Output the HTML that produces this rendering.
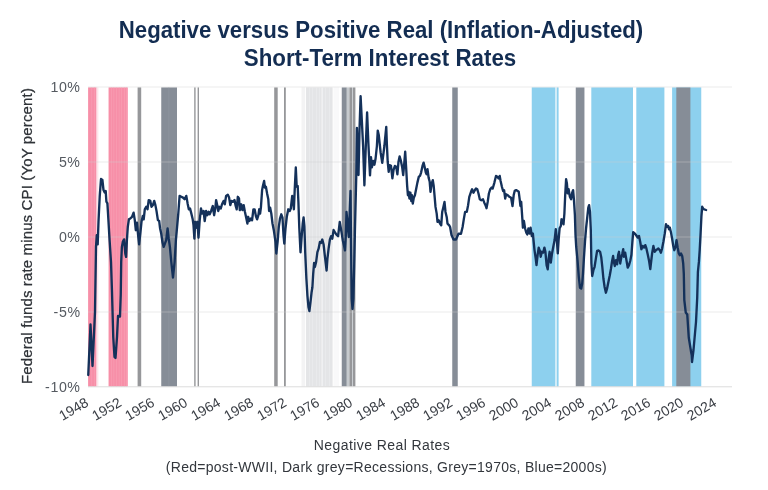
<!DOCTYPE html>
<html><head><meta charset="utf-8">
<style>
html,body{margin:0;padding:0;background:#fff;}
body{width:768px;height:490px;position:relative;overflow:hidden;font-family:"Liberation Sans",sans-serif;}
.t{position:absolute;left:0;width:768px;text-align:center;font-weight:bold;color:#132d52;font-size:23px;line-height:28px;white-space:nowrap;}
#t1{transform:scaleX(0.9656)}#t2{transform:scaleX(0.9704)}#b1{letter-spacing:0.42px}#b2{letter-spacing:0.28px}
.yl{position:absolute;left:20.6px;width:60px;text-align:right;font-size:14.2px;letter-spacing:0.6px;line-height:18px;color:#555a61;}
.xl{position:absolute;top:392.8px;width:60px;height:16px;text-align:right;font-size:14px;line-height:16px;color:#3a3e45;transform-origin:100% 50%;transform:rotate(-30deg);white-space:nowrap;}
.yt{position:absolute;left:27px;top:236px;width:0;height:0;}
.yt span{position:absolute;left:-160px;top:-9px;width:320px;text-align:center;font-size:15px;letter-spacing:0.14px;line-height:18px;color:#2f3338;-webkit-text-stroke:0.25px #2f3338;transform:rotate(-90deg);white-space:nowrap;display:block;}
.b{position:absolute;left:0;width:768px;text-align:center;font-size:14px;line-height:18px;color:#33373d;white-space:nowrap;}
svg{position:absolute;left:0;top:0;}
#w{position:absolute;left:0;top:0;width:768px;height:490px;filter:blur(0.35px);}
</style></head><body><div id="w">
<div class="t" id="t1" style="top:16.3px;left:-3px">Negative versus Positive Real (Inflation-Adjusted)</div>
<div class="t" id="t2" style="top:43.7px;left:-4px">Short-Term Interest Rates</div>
<svg width="768" height="490" viewBox="0 0 768 490">
<rect x="88.1" y="87.4" width="8.5" height="299.2" fill="#f78fa8"/>
<rect x="96.6" y="87.4" width="1.8" height="299.2" fill="#fde6eb"/>
<rect x="108.1" y="87.4" width="0.9" height="299.2" fill="#fbc9d4"/>
<rect x="109" y="87.4" width="18.8" height="299.2" fill="#f78fa8"/>
<rect x="137.6" y="87.4" width="3.6" height="299.2" fill="#96979a"/>
<rect x="161.25" y="87.4" width="15.75" height="299.2" fill="#868d97"/>
<rect x="194.2" y="87.4" width="1.4" height="299.2" fill="#96979a"/>
<rect x="197.6" y="87.4" width="1.4" height="299.2" fill="#96979a"/>
<rect x="274.2" y="87.4" width="3.5" height="299.2" fill="#96979a"/>
<rect x="284" y="87.4" width="1.8" height="299.2" fill="#96979a"/>
<rect x="301.5" y="87.4" width="3.5" height="299.2" fill="#f3f3f4"/>
<rect x="305.9" y="87.4" width="26.7" height="299.2" fill="#e4e5e7"/>
<rect x="333.5" y="87.4" width="5.5" height="299.2" fill="#f9f9fa"/>
<rect x="341.75" y="87.4" width="5.05" height="299.2" fill="#868d97"/>
<rect x="346.8" y="87.4" width="2.6" height="299.2" fill="#c6cace"/>
<rect x="349.4" y="87.4" width="2.7" height="299.2" fill="#96979a"/>
<rect x="352.1" y="87.4" width="0.9" height="299.2" fill="#c6cace"/>
<rect x="353" y="87.4" width="2.4" height="299.2" fill="#96979a"/>
<rect x="452.25" y="87.4" width="5.5" height="299.2" fill="#868d97"/>
<rect x="531.75" y="87.4" width="23.65" height="299.2" fill="#8dd0ee"/>
<rect x="556.6" y="87.4" width="2.0" height="299.2" fill="#8dd0ee"/>
<rect x="575.75" y="87.4" width="8.7" height="299.2" fill="#868d97"/>
<rect x="591.3" y="87.4" width="41.7" height="299.2" fill="#8dd0ee"/>
<rect x="636.3" y="87.4" width="28.1" height="299.2" fill="#8dd0ee"/>
<rect x="672.1" y="87.4" width="29.15" height="299.2" fill="#8dd0ee"/>
<rect x="676.3" y="87.4" width="14.1" height="299.2" fill="#868d97"/>
<rect x="91.5" y="87.4" width="0.6" height="299.2" fill="#f8a0b5"/>
<rect x="94.2" y="87.4" width="0.6" height="299.2" fill="#f8a0b5"/>
<rect x="111" y="87.4" width="0.6" height="299.2" fill="#f8a0b5"/>
<rect x="113.6" y="87.4" width="0.6" height="299.2" fill="#f8a0b5"/>
<rect x="116.2" y="87.4" width="0.6" height="299.2" fill="#f8a0b5"/>
<rect x="118.8" y="87.4" width="0.6" height="299.2" fill="#f8a0b5"/>
<rect x="121.4" y="87.4" width="0.6" height="299.2" fill="#f8a0b5"/>
<rect x="124" y="87.4" width="0.6" height="299.2" fill="#f8a0b5"/>
<rect x="126" y="87.4" width="0.6" height="299.2" fill="#f8a0b5"/>
<rect x="309" y="87.4" width="0.5" height="299.2" fill="#eeeff0"/>
<rect x="312.5" y="87.4" width="0.5" height="299.2" fill="#eeeff0"/>
<rect x="316" y="87.4" width="0.5" height="299.2" fill="#eeeff0"/>
<rect x="319" y="87.4" width="0.5" height="299.2" fill="#eeeff0"/>
<rect x="325.5" y="87.4" width="0.5" height="299.2" fill="#eeeff0"/>
<rect x="329" y="87.4" width="0.5" height="299.2" fill="#eeeff0"/>
<rect x="321.6" y="87.4" width="1.0" height="299.2" fill="#f7f7f8"/>
<rect x="168.6" y="87.4" width="0.6" height="299.2" fill="#929aa4"/>
<line x1="88" x2="732" y1="87" y2="87" stroke="#cfcfcf" stroke-opacity="0.42" stroke-width="1"/>
<line x1="88" x2="732" y1="162" y2="162" stroke="#cfcfcf" stroke-opacity="0.42" stroke-width="1"/>
<line x1="88" x2="732" y1="237" y2="237" stroke="#cfcfcf" stroke-opacity="0.42" stroke-width="1"/>
<line x1="88" x2="732" y1="312" y2="312" stroke="#cfcfcf" stroke-opacity="0.42" stroke-width="1"/>
<line x1="88" x2="732" y1="386.8" y2="386.8" stroke="#dcdcdc" stroke-width="1"/>
<polyline fill="none" stroke="#14315a" stroke-width="2.35" stroke-linejoin="round" stroke-linecap="round" points="88.25,375 90.5,324.5 92.5,366 95,312 96,246.9 96.8,235.2 97.7,244.4 98.5,221.8 99.7,196.7 101,179 102.4,180 103.5,190 104.7,192.5 105.7,190.9 106.4,201.7 107.4,203.4 108.5,221.8 109.7,241.9 111,262 112,292 113.25,337 114.5,357 115.5,358 117,337 118,316 120,316.5 120.75,294.5 121.2,262 121.9,246.9 122.8,241.9 124.1,239.4 125.3,253.6 126.1,256.9 126.9,240.2 127.8,226.8 128.9,219.3 130.3,218.5 132,216.8 133.6,212.6 134.8,220.1 135.8,230.2 137,222.6 138.1,235.2 139.1,244.4 140.3,233.5 141.5,221.8 142.8,216 143.7,219.3 144.8,209.3 146.2,206.8 147.5,209.3 148.7,200.1 150.3,200.9 151.5,206.8 152.9,205.1 154.2,200.9 155.4,205.1 156.5,210.9 157.9,220.1 159.2,221 160.1,228.5 161.2,233.5 162.4,241.9 163.7,246.9 164.9,243.6 166.2,240.2 167.6,228.5 168.7,238.5 169.9,246.9 171.3,262 173,277.5 174.6,262 175.9,240.2 177.1,226.8 178.3,213.4 179.6,195.9 181.3,196.7 183,197.6 184.6,199.2 186.3,195.9 187.6,203.4 188.8,209.3 190,208.4 191.3,213.4 192.7,219.3 193.5,225.2 194.4,238.6 195.2,221.8 196.4,227.7 197.4,221.8 198.5,237.7 199.7,220.2 201,208.5 202.2,213.5 203.6,211 204.7,221 206.1,211 207.4,215.2 208.6,211.8 209.7,214.3 211.1,211 212.8,206 214.1,215.2 215.3,208.5 216.1,200.1 217.4,206 218.3,211 219.4,206.8 220.8,208.5 222,204.3 223.6,200.9 224.8,204.3 226.1,195.9 227.8,194.7 229.1,197.6 230.3,205.1 231.5,200.9 232.8,201.8 234.5,200.1 235.7,206 236.7,209.3 237.8,196.8 239,198.4 239.8,210.1 241.2,204.3 242.4,210.1 243.7,205.1 244.9,211.8 246.2,217.7 247.4,223.5 248.2,216.8 249.5,221 250.9,218.5 252.1,220.2 253.4,209.3 254.6,209.3 255.9,216 257.1,219.3 258.4,215.2 259.2,209.3 260.1,213.5 260.9,207.6 262.1,190.1 262.9,185.9 264.1,180.9 264.9,187.6 265.9,186.7 267.1,193.4 268.3,199.3 269.1,211 270.1,207.6 271.3,213.5 272.5,223.5 273.8,230.2 275.5,241.9 276.3,253.5 277.6,241.9 278.8,226.9 280,218.5 281.3,214.3 282.5,217.7 283.5,235.2 284.3,243.6 285.5,228.5 286.8,216.8 288.3,209.3 289.7,211 290.8,208.5 292.2,195.9 293,199.3 293.9,209.3 294.7,190.1 295.8,167.5 296.7,186.7 297.7,185.9 298.4,201.8 299.3,228 300.5,252.3 301.5,238.7 302.7,224 303.6,217.5 304.4,226 305.2,252.1 306.4,278.8 307.4,295.5 308.5,307.3 309.4,311 310.5,302.2 311.6,292.2 312.4,287.2 313.2,273.8 314.1,262.9 314.9,267.1 316.1,262.1 317.4,252.1 318.6,248.7 319.9,242 321.1,242.9 322.3,239.5 323.6,244.5 324.8,255.4 325.8,263.8 326.6,270.5 327.4,258.8 328.6,248.7 329.9,239.5 331.1,236.2 332.3,238.7 333.6,230 334.8,232 336.25,234.4 338.1,236.25 339.75,221.9 341.5,232 342.8,240.4 344,245.4 345,250.4 345.8,236 346.5,211.9 347.6,224 348.75,237 349.6,215 350.5,191 350.9,230 351.7,298.9 352.5,309 353.4,298.9 354.2,265.5 354.9,232 355.5,207 356.25,177 356.9,128 357.6,150 358.5,175 359.5,130 360.6,96.25 361.8,120 363.1,146 364.4,185.4 365.8,146 367.1,112.5 368.5,146 370,175.4 371,157.25 371.9,167.25 373.1,161 374.4,164.75 375.6,158.5 376.9,146 377.75,130.6 378.75,135 380.6,152.25 382.25,162.9 384.4,146 386.25,126.9 386.9,145 387.7,161.7 388.7,171.8 389.5,165.1 391,165.9 392.4,178.4 393.5,170.1 394.9,165.9 396.2,166.7 397.4,174.3 398.5,161.7 399.6,156.4 400.7,160.1 402.1,166.7 403.2,175.1 404.4,161.7 405.2,151.7 406.1,166.7 407.1,185.1 407.9,195.2 408.7,191.8 409.4,198.5 410.4,192.7 411.3,201 411.9,195.2 412.8,203.5 413.8,197.7 414.9,195.2 416.1,189.3 417.4,182.6 418.8,176.8 420,175.9 421.1,172.6 422.5,165.9 423.6,162.6 424.6,166.7 425.8,172.6 426.6,174.3 427.5,169.2 428.6,177.6 429.7,181.8 430.5,191.8 431.7,183.5 432.8,180.1 433.7,186 434.5,195.2 435.5,206.9 436.7,213.6 437.5,221.9 438.8,220.3 440,223.6 441.2,225.3 442.2,211.9 443.4,206.9 444.5,201.9 445.5,211.9 446.7,216.9 447.5,223.6 449.2,225.3 450.1,227 451.5,235 453.5,239.5 456,239.5 458.5,233.75 461,233.75 462.6,227 463.9,218.6 465.1,211.9 466.8,211.9 468.1,205.2 469.3,196.8 471,191.8 472.1,189.3 473.5,192.7 474.8,190.2 476,188.5 477.3,189.3 478.5,193.5 479.8,199.3 481.3,200.2 483,199.3 484.3,202.7 485.5,205.2 486.5,208.2 487.7,201.9 488.9,193.5 490.2,189.3 491.5,187.6 492.7,188.5 494.4,182.6 496,175.9 497.4,176.8 498.5,178.4 499.7,175.9 500.6,181 501.9,186.8 503.1,191 504.1,190.2 505.2,198.5 506.1,194.3 507.7,195.2 509.4,196.8 511.1,197.7 512.5,206 513.7,195.1 514.7,190.9 516.2,190.1 517.6,190.9 518.7,191.7 519.7,199.3 520.4,206 521.2,201.8 522.1,215.2 522.9,227.7 523.9,221 525.1,228.5 526.3,232.7 527.3,234.4 528.4,228.5 529.6,233.5 530.6,227.7 531.8,236.1 532.9,233.5 533.5,240.1 534.5,250.1 535.7,258.4 536.5,265.1 537.7,254.3 538.7,247.6 539.9,250.9 540.7,256.8 541.9,251.8 543.2,252.6 544.4,247.6 545.4,251.8 546.6,265.1 547.7,269.3 548.7,258.4 549.6,251.8 550.8,262.6 551.9,254.3 553.3,246.7 554.6,240.1 555.8,229.2 556.6,236.7 557.8,253.4 558.6,240.1 559.6,228.3 560.8,226 561.5,219.3 562.7,220.2 563.5,224.3 564.4,213.5 565.2,195.1 566.1,179.2 566.9,183.4 567.7,193.4 568.6,189.2 569.9,196.8 571.1,199.3 572.2,192.6 573.1,190.1 573.9,199.3 574.9,215.2 575.5,235 576.2,246.7 577.5,260.1 578.8,276.8 580,287.7 581.2,288.5 582.2,283.5 583,273.5 583.9,258.4 585,241.7 586.1,228 587.3,216.8 588.3,207.6 589.1,205.1 590,211.8 590.8,230 591.4,263.5 592.2,276 593.4,270.2 594.6,266.8 595.9,258.4 597.1,250.9 598.7,250.5 600.1,251.8 601.3,257.6 602.3,266.8 603.4,278.5 604.6,286.9 605.9,292.7 607.1,288.5 608.4,281.9 609.8,275.2 611,268.5 612.1,261 613.1,255.9 614,262.6 614.8,266 616,260.1 617.1,264.3 618.1,255.1 619,251.8 620.2,263.5 621.3,257.6 622.3,253.4 623.2,249.2 624,256.8 625.2,252.6 626.3,259.3 627.7,267.6 629,265.1 630.2,261 631.4,255.1 632.4,241.7 633.2,232.2 634.7,233.4 636,235 637.7,237.5 639,235.9 640.2,241.7 641.4,249.2 642.7,245.9 644.1,247.6 645.3,245.1 646.4,248.4 647.7,254.3 649.1,261 650.3,269 651.1,262 652.1,253.5 653.4,246 654.7,251.8 655.9,250.2 657.3,249.3 658.4,248.5 659.8,250.2 660.9,252.7 662.1,248.5 663.4,241.8 664.8,233.4 666,224.2 667.1,226.8 668.1,225.9 669,229.3 669.8,227.6 671,232.6 672.1,238.5 673.1,245.2 674.3,250.2 675.5,246.8 676.5,240.1 677.7,247.7 678.8,253.5 679.8,255.2 681,253.5 682.2,256 683.2,263.5 683.8,273.6 684.3,300 685.75,312.5 687.25,314.4 688.75,337.5 691.6,355 692,362 693.5,350 696,322 697.2,298 697.9,271.9 698.9,261.9 699.7,250.2 700.6,233.4 701.4,216.7 702.2,206.7 703.6,209.2 706.1,210"/>
</svg>
<div class="yl" style="top:77.7px">10%</div>
<div class="yl" style="top:152.7px">5%</div>
<div class="yl" style="top:227.7px">0%</div>
<div class="yl" style="top:302.7px">-5%</div>
<div class="yl" style="top:377.7px">-10%</div>
<div class="xl" style="left:26.5px">1948</div>
<div class="xl" style="left:59.6px">1952</div>
<div class="xl" style="left:92.7px">1956</div>
<div class="xl" style="left:125.8px">1960</div>
<div class="xl" style="left:158.9px">1964</div>
<div class="xl" style="left:192.0px">1968</div>
<div class="xl" style="left:225.1px">1972</div>
<div class="xl" style="left:258.2px">1976</div>
<div class="xl" style="left:291.3px">1980</div>
<div class="xl" style="left:324.4px">1984</div>
<div class="xl" style="left:357.5px">1988</div>
<div class="xl" style="left:390.6px">1992</div>
<div class="xl" style="left:423.7px">1996</div>
<div class="xl" style="left:456.8px">2000</div>
<div class="xl" style="left:489.9px">2004</div>
<div class="xl" style="left:523.0px">2008</div>
<div class="xl" style="left:556.1px">2012</div>
<div class="xl" style="left:589.2px">2016</div>
<div class="xl" style="left:622.3px">2020</div>
<div class="xl" style="left:655.4px">2024</div>

<div class="yt"><span id="yt">Federal funds rate minus CPI (YoY percent)</span></div>
<div class="b" id="b1" style="top:436px;left:-2px">Negative Real Rates</div>
<div class="b" id="b2" style="top:457.6px;left:2.4px">(Red=post-WWII, Dark grey=Recessions, Grey=1970s, Blue=2000s)</div>
</div></body></html>
